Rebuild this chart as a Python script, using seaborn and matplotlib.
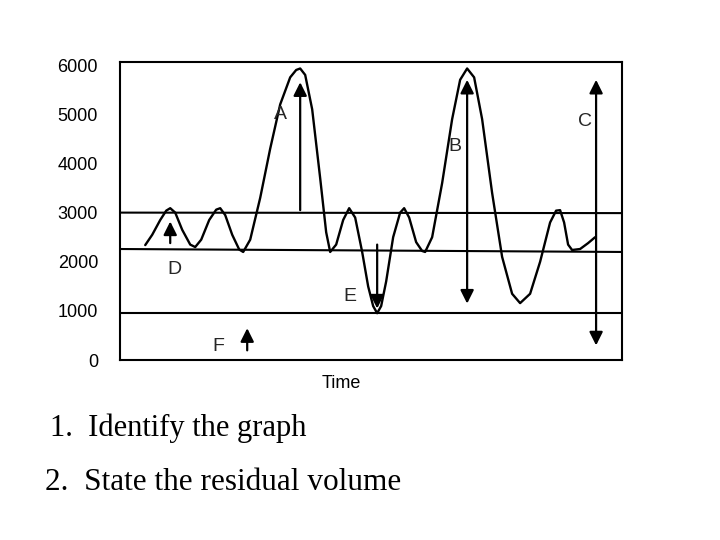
import matplotlib
matplotlib.use("Agg")
import matplotlib.pyplot as plt
import seaborn as sns
import pandas as pd

# spirogram trace (time in arbitrary units, volume in mL)
time = [145, 152, 160, 166, 170, 175, 182, 190, 195, 201, 209, 216, 220, 225, 232, 239, 243,
        250, 260, 270, 280, 290, 296, 300, 305, 312, 320, 326, 330, 336, 343, 349, 355, 362,
        368, 373, 377, 381, 386, 393, 400, 404, 409, 416, 422, 425, 432, 442, 452, 460, 467,
        474, 482, 492, 502, 512, 520, 530, 540, 550, 556, 560, 564, 568, 572, 580, 588, 595]
volume = [2340, 2550, 2850, 3040, 3090, 3000, 2650, 2350, 2300, 2450, 2850, 3060, 3090, 2950, 2550, 2250, 2200,
          2450, 3300, 4300, 5200, 5750, 5900, 5930, 5800, 5100, 3700, 2600, 2200, 2350, 2850, 3090, 2900, 2200,
          1500, 1100, 955, 1100, 1600, 2500, 3000, 3090, 2900, 2400, 2220, 2200, 2500, 3600, 4900, 5700, 5930,
          5750, 4900, 3400, 2100, 1350, 1160, 1350, 2000, 2800, 3040, 3050, 2800, 2350, 2240, 2260, 2380, 2500]
ticks = [0, 1000, 2000, 3000, 4000, 5000, 6000]
levels = [(3000, 2990), (2260, 2200), (950, 950)]

df = pd.DataFrame({"Time": time, "Volume": volume})

sns.set_style("white")
fig = plt.figure(figsize=(7.2, 5.4), dpi=100)
ax = fig.add_axes([0.167, 0.333, 0.697, 0.552])
sns.lineplot(data=df, x="Time", y="Volume", color="black", lw=1.7, ax=ax, sort=False)

for y0, y1 in levels:
    ax.plot([120, 622], [y0, y1], color="black", lw=1.5)

def arrow(x, y0, y1, both=False):
    ax.annotate("", xy=(x, y1), xytext=(x, y0),
                arrowprops=dict(arrowstyle="<|-|>" if both else "-|>", color="black",
                                lw=1.6, mutation_scale=20, shrinkA=0, shrinkB=0))

arrow(300, 3050, 5650)
arrow(467, 1150, 5700, both=True)
arrow(596, 300, 5700, both=True)
arrow(170, 2380, 2820)
arrow(377, 2350, 1050)
arrow(247, 200, 650)

for lab, x, y in [("A", 280, 5000), ("B", 455, 4350), ("C", 585, 4850),
                  ("D", 174, 1850), ("E", 350, 1300), ("F", 218, 280)]:
    ax.text(x, y, lab, fontsize=14, ha="center", va="center", family="Liberation Sans")

ax.set_xlim(120, 622)
ax.set_ylim(0, 6060)
ax.set_xticks([])
ax.set_yticks(ticks)
ax.set_yticklabels([str(t) for t in ticks], fontsize=13, family="Liberation Sans", color="black")
ax.tick_params(axis="y", length=0, pad=16)
ax.set_ylabel("")
ax.set_xlabel("Time", fontsize=13, family="Liberation Sans", labelpad=12, color="black")
ax.xaxis.set_label_coords(0.44, -0.05)
for s in ax.spines.values():
    s.set_color("black")
    s.set_linewidth(1.5)

fig.text(0.07, 0.207, "1.  Identify the graph", fontsize=22, family="Liberation Serif",
         va="center", color="black")
fig.text(0.062, 0.107, "2.  State the residual volume", fontsize=22.5, family="Liberation Serif",
         va="center", color="black")

fig.savefig("out.png", dpi=100, facecolor="white")
